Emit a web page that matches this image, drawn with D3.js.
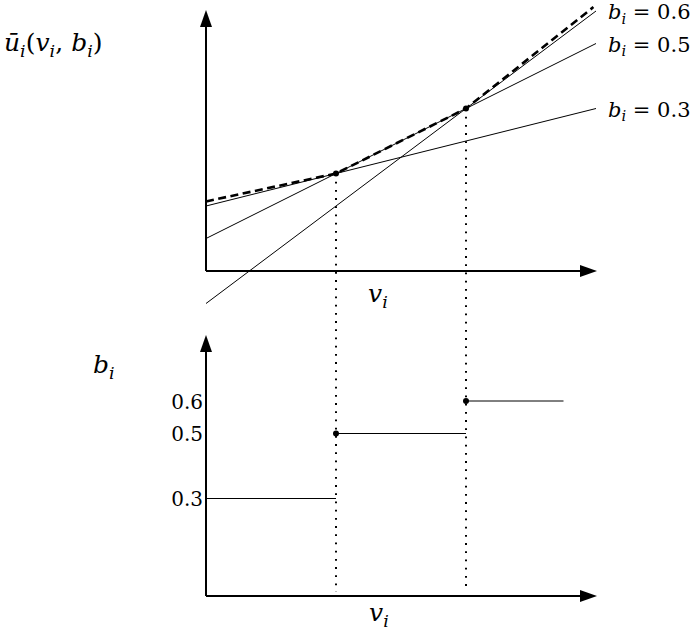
<!DOCTYPE html>
<html>
<head>
<meta charset="utf-8">
<script src="https://cdn.jsdelivr.net/npm/d3@7"></script>
<style>
  body { margin: 0; background: #fff; }
  text { font-family: "DejaVu Serif", serif; fill: #000; }
</style>
</head>
<body>
<script>
// top panel: utility lines, value v_i against utility u
var vPts = [0, 3];
var uB03 = [1.0, 2.5];
var uB05 = [0.5, 3.5];
var uB06 = [-0.5, 4.0];
var lineBids = ["0.3", "0.5", "0.6"];
// dashed upper envelope
var vEnv = [0, 1, 2, 2.98];
var uEnv = [1.07, 1.5, 2.5, 4.06];
// switch points
var vBreaks = [1, 2];
var uBreaks = [1.5, 2.5];

// bottom panel: optimal bid step function
var stepB = [0.3, 0.5, 0.6];
var stepV0 = [0, 1, 2];
var stepV1 = [1, 2, 2.75];
var bTicks = [0.3, 0.5, 0.6];

var svg = d3.select("body").append("svg")
    .attr("width", 691)
    .attr("height", 634);

var x = d3.scaleLinear().domain([0, 3]).range([206, 596]);
var yU = d3.scaleLinear().domain([0, 4]).range([271, 11]);
var yB = d3.scaleLinear().domain([0, 0.8]).range([596, 336]);

function arrowAxis(x0, y0, x1, y1) {
    var dx = x1 - x0, dy = y1 - y0, len = Math.sqrt(dx * dx + dy * dy);
    var ux = dx / len, uy = dy / len;
    var hl = 17, hw = 6;
    svg.append("line")
        .attr("x1", x0).attr("y1", y0)
        .attr("x2", x1 - ux * hl).attr("y2", y1 - uy * hl)
        .attr("stroke", "#000").attr("stroke-width", 2);
    var bx = x1 - ux * hl, by = y1 - uy * hl;
    svg.append("path")
        .attr("d", "M" + x1 + "," + y1 +
                   "L" + (bx - uy * hw) + "," + (by + ux * hw) +
                   "L" + (bx + uy * hw) + "," + (by - ux * hw) + "Z")
        .attr("fill", "#000");
}

// labels with subscripts
function mathLabel(px, py, parts, size) {
    var t = svg.append("text").attr("x", px).attr("y", py).attr("font-size", size);
    parts.forEach(function(p) {
        var s = t.append("tspan").text(p.t);
        if (p.it) s.attr("font-style", "italic");
        if (p.sub) s.attr("font-size", size * 0.7).attr("dy", size * 0.22);
        if (p.up) s.attr("dy", -size * 0.22);
    });
    return t;
}

// dotted verticals linking both panels
svg.selectAll(".guide")
    .data(vBreaks)
    .enter().append("line")
    .attr("class", "guide")
    .attr("x1", function(d) { return x(d); })
    .attr("x2", function(d) { return x(d); })
    .attr("y1", function(d, i) { return yU(uBreaks[i]); })
    .attr("y2", yB(0) - 4)
    .attr("stroke", "#000")
    .attr("stroke-width", 2)
    .attr("stroke-dasharray", "1.8,6.4");

// ---- top panel
var line = d3.line()
    .x(function(d) { return x(d[0]); })
    .y(function(d) { return yU(d[1]); });

[uB03, uB05, uB06].forEach(function(us) {
    svg.append("path")
        .datum(d3.zip(vPts, us))
        .attr("d", line)
        .attr("fill", "none")
        .attr("stroke", "#000")
        .attr("stroke-width", 1);
});

svg.append("path")
    .datum(d3.zip(vEnv, uEnv))
    .attr("d", line)
    .attr("fill", "none")
    .attr("stroke", "#000")
    .attr("stroke-width", 2.6)
    .attr("stroke-dasharray", "8,4.5");

svg.selectAll(".topdot")
    .data(vBreaks)
    .enter().append("circle")
    .attr("cx", function(d) { return x(d); })
    .attr("cy", function(d, i) { return yU(uBreaks[i]); })
    .attr("r", 3);

arrowAxis(x(0), yU(0), x(0), 10);
arrowAxis(x(0), yU(0), 597, yU(0));

[uB06, uB05, uB03].forEach(function(us, i) {
    var b = lineBids[2 - i];
    mathLabel(608, yU(us[1]) + 8, [
        {t: "b", it: true}, {t: "i", it: true, sub: true},
        {t: " = " + b, up: true}
    ], 21);
});

mathLabel(4, 51, [
    {t: "\u016B", it: true}, {t: "i", it: true, sub: true},
    {t: "(", up: true}, {t: "v", it: true}, {t: "i", it: true, sub: true},
    {t: ", ", up: true}, {t: "b", it: true}, {t: "i", it: true, sub: true},
    {t: ")", up: true}
], 25);

mathLabel(368, 302, [{t: "v", it: true}, {t: "i", it: true, sub: true}], 25);

// ---- bottom panel
svg.selectAll(".step")
    .data(stepB)
    .enter().append("line")
    .attr("class", "step")
    .attr("x1", function(d, i) { return x(stepV0[i]); })
    .attr("x2", function(d, i) { return x(stepV1[i]); })
    .attr("y1", function(d) { return yB(d); })
    .attr("y2", function(d) { return yB(d); })
    .attr("stroke", "#000")
    .attr("stroke-width", 1);

svg.selectAll(".stepdot")
    .data(stepB.slice(1))
    .enter().append("circle")
    .attr("cx", function(d, i) { return x(stepV0[i + 1]); })
    .attr("cy", function(d) { return yB(d); })
    .attr("r", 3);

var bAxis = svg.append("g")
    .attr("transform", "translate(" + x(0) + ",0)")
    .call(d3.axisLeft(yB).tickValues(bTicks).tickSize(0).tickPadding(3)
        .tickFormat(d3.format(".1f")));
bAxis.select(".domain").remove();
bAxis.selectAll("text")
    .attr("font-family", "DejaVu Serif")
    .attr("font-size", 20)
    .attr("dy", "0.35em");

arrowAxis(x(0), yB(0), x(0), 335);
arrowAxis(x(0), yB(0), 597, yB(0));

mathLabel(93, 373, [{t: "b", it: true}, {t: "i", it: true, sub: true}], 25);
mathLabel(369, 621, [{t: "v", it: true}, {t: "i", it: true, sub: true}], 25);
</script>
</body>
</html>
